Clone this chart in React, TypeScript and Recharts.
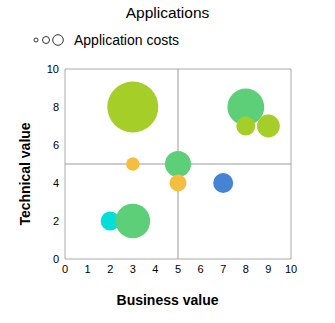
import { ScatterChart, Scatter, XAxis, YAxis, ZAxis, ReferenceLine, ReferenceArea, Cell } from "recharts";

// business value (x), technical value (y), application cost (bubble size)
const business = [3, 8, 8, 9, 3, 5, 5, 7, 2, 3];
const technical = [8, 8, 7, 7, 5, 5, 4, 4, 2, 2];
const costs = [650, 340, 90, 130, 45, 170, 72, 100, 90, 300];
const palette = ["#a6ce29", "#5ccf78", "#a6ce29", "#a6ce29", "#f6be41", "#5ccf78", "#f6be41", "#4683d3", "#00dfd9", "#5ccf78"];

const xTicks = [0, 1, 2, 3, 4, 5, 6, 7, 8, 9, 10];
const yTicks = [0, 2, 4, 6, 8, 10];

const points = business.map((b, i) => ({ x: b, y: technical[i], z: costs[i] }));

const font = "'Liberation Sans', Arial, sans-serif";
const maxR = 25.5;

export default function App() {
  return (
    <div style={{ position: "absolute", left: 0, top: 0, width: 335, height: 323, fontFamily: font, background: "#fff" }}>
      <div style={{ position: "absolute", top: 4, left: 0, width: 335, textAlign: "center", fontSize: 15.5, color: "#000" }}>
        Applications
      </div>
      <div style={{ position: "absolute", top: 32, left: 31, display: "flex", alignItems: "center", fontSize: 14, color: "#000" }}>
        <svg width={38} height={16} style={{ marginRight: 5 }}>
          <circle cx={5} cy={8} r={2} fill="none" stroke="#333" strokeWidth={1} />
          <circle cx={15} cy={8} r={3.5} fill="none" stroke="#333" strokeWidth={1} />
          <circle cx={27} cy={8} r={5.3} fill="none" stroke="#333" strokeWidth={1} />
        </svg>
        <span>Application costs</span>
      </div>
      <ScatterChart width={335} height={323} margin={{ top: 69, right: 44, bottom: 44, left: 25 }}>
        <XAxis
          type="number"
          dataKey="x"
          domain={[0, 10]}
          ticks={xTicks}
          interval={0}
          axisLine={false}
          tickLine={false}
          tickSize={0}
          tickMargin={6}
          height={20}
          tick={{ fill: "#000", fontSize: 11, fontFamily: font }}
        />
        <YAxis
          type="number"
          dataKey="y"
          domain={[0, 10]}
          ticks={yTicks}
          interval={0}
          axisLine={false}
          tickLine={false}
          tickSize={0}
          tickMargin={6}
          width={40}
          tick={{ fill: "#000", fontSize: 11, fontFamily: font }}
        />
        <ZAxis type="number" dataKey="z" domain={[0, 650]} range={[0, Math.PI * maxR * maxR]} />
        <ReferenceArea x1={0} x2={10} y1={0} y2={10} fill="none" stroke="#aaa" strokeWidth={1} />
        <ReferenceLine x={5} stroke="#999" strokeWidth={1} />
        <ReferenceLine y={5} stroke="#999" strokeWidth={1} />
        <Scatter data={points} isAnimationActive={false}>
          {points.map((_, i) => (
            <Cell key={i} fill={palette[i]} />
          ))}
        </Scatter>
      </ScatterChart>
      <div style={{ position: "absolute", top: 292, left: 0, width: 335, textAlign: "center", fontSize: 14, fontWeight: "bold", color: "#000" }}>
        Business value
      </div>
      <div
        style={{
          position: "absolute",
          left: 25,
          top: 174,
          transform: "translate(-50%, -50%) rotate(-90deg)",
          whiteSpace: "nowrap",
          fontSize: 14,
          fontWeight: "bold",
          color: "#000",
        }}
      >
        Technical value
      </div>
    </div>
  );
}
